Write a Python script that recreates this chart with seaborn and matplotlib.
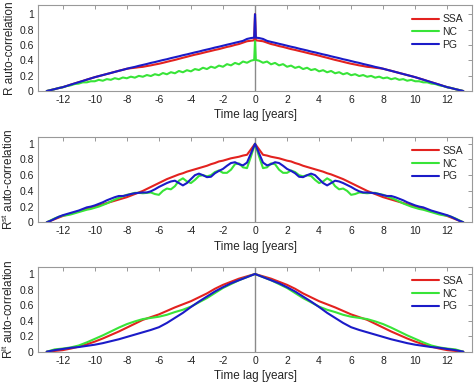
import numpy as np
import pandas as pd
import matplotlib
matplotlib.use("Agg")
import matplotlib.pyplot as plt
import seaborn as sns

# -----------------------------
# Data (positive lags only, auto-correlation is symmetric)
# -----------------------------
LAGS_R = np.concatenate([[0.0, 0.05], np.arange(0.25, 13.01, 0.25)])
LAGS_FINE = np.arange(0, 13.01, 0.25)
LAGS_COARSE = np.arange(0, 13.01, 0.5)

SERIES = ["SSA", "NC", "PG"]
COLORS = {"SSA": "#e3221f", "NC": "#38e438", "PG": "#1b1bc8"}

# panel 1: R (lag 0 spike, then lag 0.05, then 0.25 steps)
r_ssa = [1.0, 0.660, 0.655, 0.648, 0.630, 0.612, 0.600, 0.585, 0.574, 0.560, 0.546,
         0.535, 0.522, 0.510, 0.497, 0.484, 0.473, 0.460, 0.446, 0.433, 0.419,
         0.405, 0.393, 0.380, 0.367, 0.355, 0.345, 0.334, 0.325, 0.315, 0.310,
         0.303, 0.297, 0.290, 0.276, 0.263, 0.249, 0.235, 0.222, 0.207, 0.194,
         0.180, 0.164, 0.148, 0.131, 0.115, 0.099, 0.083, 0.066, 0.050, 0.038,
         0.025, 0.012, 0.0]
r_nc = [0.65, 0.405, 0.395, 0.368, 0.384, 0.348, 0.366, 0.334, 0.350, 0.316, 0.331,
        0.301, 0.317, 0.286, 0.303, 0.273, 0.286, 0.256, 0.271, 0.244, 0.261,
        0.231, 0.245, 0.218, 0.234, 0.206, 0.219, 0.195, 0.208, 0.186, 0.197,
        0.174, 0.187, 0.166, 0.176, 0.154, 0.167, 0.146, 0.155, 0.134, 0.145,
        0.127, 0.127, 0.113, 0.113, 0.097, 0.091, 0.074, 0.065, 0.048, 0.040,
        0.024, 0.013, 0.0]
r_pg = [1.0, 0.695, 0.690, 0.678, 0.653, 0.640, 0.628, 0.615, 0.603, 0.590, 0.577,
        0.566, 0.552, 0.540, 0.528, 0.514, 0.503, 0.490, 0.477, 0.466, 0.452,
        0.440, 0.428, 0.414, 0.403, 0.390, 0.377, 0.366, 0.352, 0.340, 0.328,
        0.314, 0.303, 0.290, 0.276, 0.263, 0.249, 0.235, 0.221, 0.208, 0.194,
        0.180, 0.164, 0.148, 0.131, 0.115, 0.099, 0.083, 0.066, 0.050, 0.038,
        0.025, 0.012, 0.0]

# panel 2: R^st
rst_ssa = [1.0, 0.93, 0.86, 0.85, 0.835, 0.825, 0.815, 0.80, 0.785, 0.775,
           0.755, 0.74, 0.72, 0.705, 0.69, 0.675, 0.66, 0.645, 0.625, 0.61,
           0.59, 0.57, 0.55, 0.525, 0.50, 0.475, 0.45, 0.425, 0.40, 0.38,
           0.36, 0.34, 0.32, 0.305, 0.29, 0.275, 0.26, 0.245, 0.23, 0.215,
           0.20, 0.185, 0.17, 0.155, 0.14, 0.125, 0.11, 0.095, 0.08, 0.06,
           0.04, 0.02, 0.0]
rst_nc = [1.0, 0.84, 0.69, 0.70, 0.75, 0.74, 0.67, 0.63, 0.63, 0.66,
          0.64, 0.60, 0.585, 0.60, 0.59, 0.54, 0.50, 0.52, 0.56, 0.53,
          0.46, 0.42, 0.43, 0.40, 0.35, 0.36, 0.38, 0.375, 0.37, 0.375,
          0.375, 0.36, 0.35, 0.33, 0.31, 0.29, 0.265, 0.24, 0.22, 0.20,
          0.185, 0.17, 0.16, 0.145, 0.13, 0.115, 0.10, 0.09, 0.085, 0.07,
          0.05, 0.025, 0.0]
rst_pg = [1.0, 0.88, 0.76, 0.725, 0.74, 0.765, 0.755, 0.72, 0.68, 0.655,
          0.625, 0.58, 0.575, 0.60, 0.62, 0.60, 0.55, 0.50, 0.47, 0.50,
          0.53, 0.52, 0.50, 0.475, 0.45, 0.42, 0.395, 0.38, 0.38, 0.375,
          0.37, 0.36, 0.345, 0.335, 0.335, 0.32, 0.30, 0.28, 0.255, 0.235,
          0.215, 0.20, 0.19, 0.17, 0.15, 0.135, 0.12, 0.105, 0.09, 0.07,
          0.045, 0.02, 0.0]

# panel 3: R^lt
rlt_ssa = [1.0, 0.97, 0.94, 0.90, 0.86, 0.81, 0.75, 0.70, 0.65, 0.61,
           0.57, 0.525, 0.48, 0.445, 0.41, 0.36, 0.31, 0.26, 0.215, 0.17,
           0.13, 0.095, 0.065, 0.04, 0.02, 0.01, 0.0]
rlt_nc = [1.0, 0.96, 0.92, 0.87, 0.82, 0.755, 0.69, 0.635, 0.58, 0.54,
          0.51, 0.475, 0.45, 0.435, 0.42, 0.39, 0.355, 0.31, 0.26, 0.21,
          0.165, 0.12, 0.08, 0.055, 0.04, 0.03, 0.0]
rlt_pg = [1.0, 0.96, 0.92, 0.88, 0.83, 0.775, 0.71, 0.645, 0.575, 0.50,
          0.435, 0.37, 0.315, 0.28, 0.25, 0.22, 0.19, 0.16, 0.135, 0.11,
          0.09, 0.075, 0.06, 0.05, 0.035, 0.02, 0.0]

PANELS = [
    ("R auto-correlation", LAGS_R, [r_ssa, r_nc, r_pg], 1.12),
    ("R$^{\\mathrm{st}}$ auto-correlation", LAGS_FINE, [rst_ssa, rst_nc, rst_pg], 1.09),
    ("R$^{\\mathrm{lt}}$ auto-correlation", LAGS_COARSE, [rlt_ssa, rlt_nc, rlt_pg], 1.094),
]

XTICKS = list(range(-12, 13, 2))
YTICKS = [0, 0.2, 0.4, 0.6, 0.8, 1]
YTICKLABELS = ["0", "0.2", "0.4", "0.6", "0.8", "1"]


def mirror(lags, vals):
    lags = np.asarray(lags)
    vals = np.asarray(vals)
    return (np.concatenate([-lags[::-1], lags[1:]]),
            np.concatenate([vals[::-1], vals[1:]]))


def build_frame(lags, series_vals):
    rows = []
    for name, vals in zip(SERIES, series_vals):
        x, y = mirror(lags, vals)
        rows.append(pd.DataFrame({"lag": x, "value": y, "series": name}))
    return pd.concat(rows, ignore_index=True)


sns.set_style("white")
plt.rcParams["font.family"] = ["Liberation Sans", "DejaVu Sans"]
plt.rcParams["mathtext.fontset"] = "custom"
plt.rcParams["mathtext.rm"] = "Liberation Sans"
plt.rcParams["mathtext.it"] = "Liberation Sans:italic"

fig = plt.figure(figsize=(4.74, 3.85), dpi=100)
positions = [
    [0.080, 0.7636, 0.916, 0.2234],
    [0.080, 0.4226, 0.916, 0.2223],
    [0.080, 0.0865, 0.916, 0.2208],
]

for pos, (ylabel, lags, series_vals, ytop) in zip(positions, PANELS):
    ax = fig.add_axes(pos)
    df = build_frame(lags, series_vals)
    ax.axvline(0, color="#8a8a8a", lw=1.0, zorder=1)
    sns.lineplot(data=df, x="lag", y="value", hue="series", hue_order=SERIES,
                 palette=COLORS, lw=1.5, ax=ax, zorder=2, sort=False,
                 estimator=None)
    ax.set_xlim(-13.55, 13.55)
    ax.set_ylim(0, ytop)
    ax.set_xticks(XTICKS)
    ax.set_xticklabels([str(t) for t in XTICKS])
    ax.set_yticks(YTICKS)
    ax.set_yticklabels(YTICKLABELS)
    ax.tick_params(direction="in", length=3, width=0.6, color="#888888",
                   labelsize=7.5, labelcolor="#222222", pad=3,
                   top=True, right=True)
    for s in ax.spines.values():
        s.set_color("#999999")
        s.set_linewidth(0.8)
    ax.set_xlabel("Time lag [years]", fontsize=8.5, labelpad=3)
    ax.set_ylabel(ylabel, fontsize=8.5, labelpad=2)
    leg = ax.legend(loc="upper right", frameon=False, fontsize=7.5,
                    handlelength=2.6, handletextpad=0.3, labelspacing=0.25,
                    borderaxespad=0.5)
    for line in leg.get_lines():
        line.set_linewidth(1.5)

fig.savefig("out.png", dpi=100)
plt.close(fig)
